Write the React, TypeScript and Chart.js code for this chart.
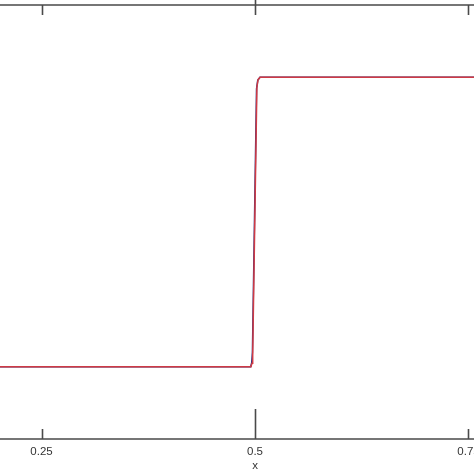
import Chart from "chart.js/auto";
import { useEffect, useRef } from "react";

// x positions of the visible tick marks / labels
const xTicks = [0.25, 0.5, 0.75];

// solution curves (step at x = 0.5)
const blueX = [0.2, 0.495, 0.4962, 0.497, 0.5018, 0.5032, 0.5058, 0.84];
const blueY = [0, 0, 0.015, 0.05, 0.96, 0.99, 1, 1];
const redX = [0.2, 0.4952, 0.4965, 0.4973, 0.5022, 0.5036, 0.506, 0.84];
const redY = [0, 0, 0.012, 0.045, 0.965, 0.992, 1, 1];

const axisColor = "#4a4a4a";
const font = { family: "Liberation Sans, Arial, sans-serif", size: 11.5 };

const frame = {
  id: "frame",
  afterDraw(chart: Chart) {
    const { ctx, chartArea } = chart;
    const x = chart.scales.x;
    ctx.save();
    ctx.strokeStyle = axisColor;
    ctx.lineWidth = 1.5;
    ctx.beginPath();
    ctx.moveTo(chartArea.left, chartArea.top);
    ctx.lineTo(chartArea.right, chartArea.top);
    ctx.moveTo(chartArea.left, chartArea.bottom);
    ctx.lineTo(chartArea.right, chartArea.bottom);
    ctx.stroke();
    ctx.lineWidth = 1.6;
    ctx.beginPath();
    xTicks.forEach((v) => {
      const px = Math.round(x.getPixelForValue(v)) + 0.5;
      const big = v === 0.5;
      ctx.moveTo(px, chartArea.bottom);
      ctx.lineTo(px, chartArea.bottom - (big ? 30 : 10));
      ctx.moveTo(px, big ? 0 : chartArea.top);
      ctx.lineTo(px, chartArea.top + 10);
    });
    ctx.stroke();
    ctx.restore();
  },
};

export default function App() {
  const canvasRef = useRef<HTMLCanvasElement | null>(null);
  const chartRef = useRef<Chart | null>(null);

  useEffect(() => {
    if (!canvasRef.current) {
      return;
    }
    if (chartRef.current) {
      chartRef.current.destroy();
    }

    chartRef.current = new Chart(canvasRef.current, {
      type: "line",
      data: {
        datasets: [
          {
            label: "blue",
            data: blueX.map((v, i) => ({ x: v, y: blueY[i] })),
            borderColor: "#2a2c78",
            borderWidth: 1.5,
            pointRadius: 0,
            tension: 0,
            order: 2,
          },
          {
            label: "red",
            data: redX.map((v, i) => ({ x: v, y: redY[i] })),
            borderColor: "#cf3a44",
            borderWidth: 1.5,
            pointRadius: 0,
            tension: 0,
            order: 1,
          },
        ],
      },
      options: {
        animation: false,
        responsive: true,
        maintainAspectRatio: false,
        layout: { padding: { top: 5, left: 0, right: 0, bottom: 0 } },
        plugins: {
          legend: { display: false },
          tooltip: { enabled: false },
        },
        scales: {
          x: {
            type: "linear",
            min: 0.2014,
            max: 0.7986,
            afterBuildTicks: (scale) => {
              scale.ticks = xTicks.map((v) => ({ value: v }));
            },
            afterFit: (scale) => {
              scale.height = 35;
            },
            grid: { display: false, drawTicks: false },
            border: { display: false },
            ticks: {
              color: "#333",
              padding: 6,
              maxRotation: 0,
              autoSkip: false,
              font,
              callback: (v) => String(v),
            },
            title: {
              display: true,
              text: "x",
              color: "#333",
              padding: { top: 0, bottom: 1 },
              font,
            },
          },
          y: {
            type: "linear",
            min: -0.25,
            max: 1.25,
            display: false,
          },
        },
      },
      plugins: [frame],
    });

    return () => {
      chartRef.current?.destroy();
    };
  }, []);

  return (
    <div
      style={{
        position: "fixed",
        left: 0,
        top: 0,
        width: 474,
        height: 474,
        overflow: "hidden",
        background: "#fff",
      }}
    >
      <div style={{ position: "absolute", left: 0, top: 0, width: 510, height: 474 }}>
        <canvas ref={canvasRef} />
      </div>
    </div>
  );
}
